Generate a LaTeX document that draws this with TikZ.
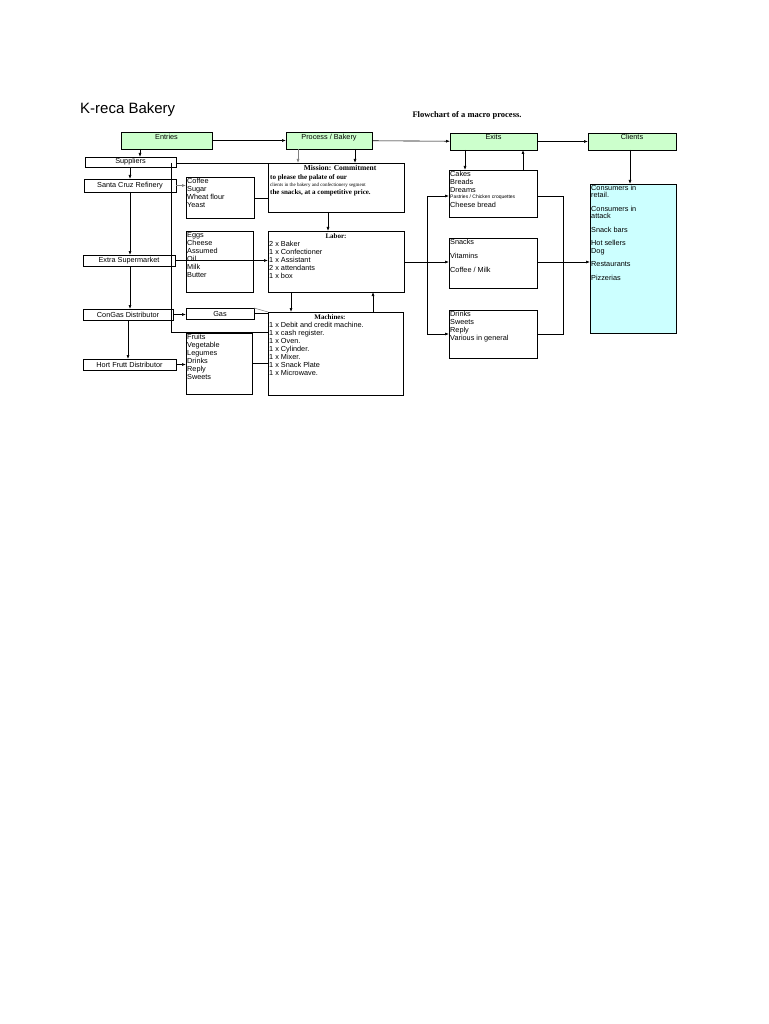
\documentclass[tikz,border=0pt]{standalone}
\usepackage{fontspec}
\setmainfont{Liberation Sans}
\newfontfamily\serifx{Liberation Serif}
\usetikzlibrary{arrows.meta}
\definecolor{hdr}{RGB}{204,255,204}
\definecolor{cyanbox}{RGB}{204,255,255}
\newcommand\bx[6][]{\node[box,#1,minimum width={#5pt-#3pt},minimum height={#6pt-#4pt}] (#2) at ({(#3+#5)/2},{(#4+#6)/2}) {};}
\tikzset{
 box/.style={draw,line width=0.9pt,inner sep=0pt,outer sep=0pt},
 hbox/.style={fill=hdr},
 txt/.style={anchor=north west,align=left,inner sep=1pt,font=\fontsize{7.3}{8}\selectfont},
 ctr/.style={inner sep=0pt,font=\fontsize{7.3}{8}\selectfont},
 ar/.style={-{Latex[length=4pt,width=3pt]},line width=0.6pt},
 ln/.style={line width=0.6pt},
 gr/.style={ar,draw=gray}
}
\begin{document}
\begin{tikzpicture}[x=1pt,y=-1pt]
\useasboundingbox (0,0) rectangle (768,1024);
\node[anchor=west,inner sep=0pt,font=\fontsize{15}{16}\selectfont] (title) at (80,110) {K-reca Bakery};
\node[inner sep=0pt,font=\serifx\bfseries\fontsize{8.5}{9}\selectfont] (sub) at (467,115) {Flowchart of a macro process.};
% headers
\bx[hbox]{ent}{121}{132}{212}{149}
\bx[hbox]{proc}{286}{132}{372}{149}
\bx[hbox]{exi}{450}{133}{537}{150}
\bx[hbox]{cli}{588}{133}{676}{150}
\node[ctr,anchor=north] at ([yshift=-2pt]ent.north) {Entries};
\node[ctr,anchor=north] at ([yshift=-2pt]proc.north) {Process / Bakery};
\node[ctr,anchor=north] at ([yshift=-1pt]exi.north) {Exits};
\node[ctr,anchor=north] at ([yshift=-1pt]cli.north) {Clients};
% suppliers column
\bx{sup}{85}{157}{176}{167}
\bx{scr}{84}{179}{176}{192}
\bx{ext}{83}{255}{175}{266}
\bx{gasd}{83}{309}{173}{320}
\bx{hort}{83}{359}{176}{370}
\node[ctr] at (sup) {Suppliers};
\node[ctr] at (scr) {Santa Cruz Refinery};
\node[ctr] at (ext) {Extra Supermarket};
\node[ctr] at (gasd) {ConGas Distributor};
\node[ctr] at (hort) {Hort Frutt Distributor};
% products
\bx{cof}{186}{177}{254}{218}
\bx{egg}{186}{231}{253}{292}
\bx{gas}{186}{308}{254}{319}
\bx{fru}{186}{333}{252}{394}
\node[txt] at (cof.north west) {Coffee\\Sugar\\Wheat flour\\Yeast};
\node[txt] at (egg.north west) {Eggs\\Cheese\\Assumed\\Oil\\Milk\\Butter};
\node[ctr] at (gas) {Gas};
\node[txt] at (fru.north west) {Fruits\\Vegetable\\Legumes\\Drinks\\Reply\\Sweets};
% process
\bx{mis}{268}{163}{404}{212}
\bx{lab}{268}{231}{404}{292}
\bx{mac}{268}{312}{403}{395}
\node[inner sep=0pt,anchor=north,font=\serifx\bfseries\fontsize{7.5}{8}\selectfont] at (340,165) {Mission: Commitment};
\node[anchor=north west,inner sep=0pt,align=left,font=\serifx\fontsize{7}{8}\selectfont] at (270,174) {\textbf{to please the palate of our}\\[-1pt]{\fontsize{5}{6}\selectfont clients in the bakery and confectionery segment}\\\textbf{the snacks, at a competitive price.}};
\node[inner sep=0pt,anchor=north,font=\serifx\bfseries\fontsize{7}{8}\selectfont] at (336,233) {Labor:};
\node[txt,anchor=north west] at (268,240) {2 x Baker\\1 x Confectioner\\1 x Assistant\\2 x attendants\\1 x box};
\node[inner sep=0pt,anchor=north,font=\serifx\bfseries\fontsize{7}{8}\selectfont] at (330,314) {Machines:};
\node[txt,anchor=north west] at (268,321) {1 x Debit and credit machine.\\1 x cash register.\\1 x Oven.\\1 x Cylinder.\\1 x Mixer.\\1 x Snack Plate\\1 x Microwave.};
% exits
\bx{cak}{449}{170}{537}{217}
\bx{sna}{449}{238}{537}{288}
\bx{dri}{449}{310}{537}{358}
\node[txt,align=left] at (cak.north west) {Cakes\\Breads\\Dreams\\[-1.5pt]{\fontsize{5}{6}\selectfont Pastries / Chicken croquettes}\\[1pt]Cheese bread};
\node[txt] at (sna.north west) {Snacks\\[6pt]Vitamins\\[6pt]Coffee / Milk};
\node[txt] at (dri.north west) {Drinks\\Sweets\\Reply\\Various in general};
\bx[fill=cyanbox]{lst}{590}{184}{676}{333}
\node[txt,font=\fontsize{7.3}{7.5}\selectfont] at (lst.north west) {Consumers in\\retail.\\[6pt]Consumers in\\attack\\[6pt]Snack bars\\[6pt]Hot sellers\\Dog\\[6pt]Restaurants\\[6pt]Pizzerias};
% header arrows
\draw[ar] (ent) -- (proc);
\draw[ar] (proc) -- (exi);
\draw[ar] (exi) -- (cli);
\draw[ar] (ent.south -| 140,0) -- (sup.north -| 140,0);
\draw[ar] (sup.south -| 130,0) -- (scr.north -| 130,0);
\draw[ar] (scr.south -| 130,0) -- (ext.north -| 130,0);
\draw[ar] (ext.south -| 130,0) -- (gasd.north -| 130,0);
\draw[ar] (gasd.south -| 128,0) -- (hort.north -| 128,0);
% suppliers loop
\draw[ln] (sup.east |- 0,163) -- (mis.west |- 0,163);
\draw[ln] (171,163) -- (171,332) -- (mac.west |- 0,332);
% supplier -> product
\draw[gr] (scr.east) -- (cof.west |- scr.east);
\draw[ar] (ext.east) -- (lab.west |- ext.east);
\draw[ar] (gasd.east) -- (gas.west |- gasd.east);
\draw[ar] (hort.east) -- (fru.west |- hort.east);
\draw[ln] (cof.east |- 0,198) -- (mis.west |- 0,198);
\draw[ln] (gas.east) -- (mac.west |- gas.east);
\draw[ln,gray] (gas.north east) -- (mac.north west);
\draw[ln] (fru.east |- 0,363) -- (mac.west |- 0,363);
% process internal
\draw[gr] (proc.south -| 298,0) -- (mis.north -| 298,0);
\draw[ar] (proc.south -| 355,0) -- (mis.north -| 355,0);
\draw[ar] (mis.south -| 328,0) -- (lab.north -| 328,0);
\draw[ar] (lab.south -| 291,0) -- (mac.north -| 291,0);
\draw[ar] (mac.north -| 373,0) -- (lab.south -| 373,0);
% fan to exits
\coordinate (fl) at (427,262);
\draw[ln] (lab.east |- fl) -- (fl);
\draw[ar] (fl) |- (cak.west |- 0,196);
\draw[ar] (fl) -- (sna.west |- fl);
\draw[ar] (fl) |- (dri.west |- 0,334);
\coordinate (fr) at (563,262);
\draw[ln] (cak.east |- 0,196) -| (fr);
\draw[ln] (dri.east |- 0,334) -| (fr);
\draw[ln] (sna.east |- fr) -- (fr);
\draw[ar] (fr) -- (lst.west |- fr);
\draw[ar] (exi.south -| 465,0) -- (cak.north -| 465,0);
\draw[ar] (cak.north -| 523,0) -- (exi.south -| 523,0);
\draw[ar] (cli.south -| 630,0) -- (lst.north -| 630,0);
\end{tikzpicture}
\end{document}
